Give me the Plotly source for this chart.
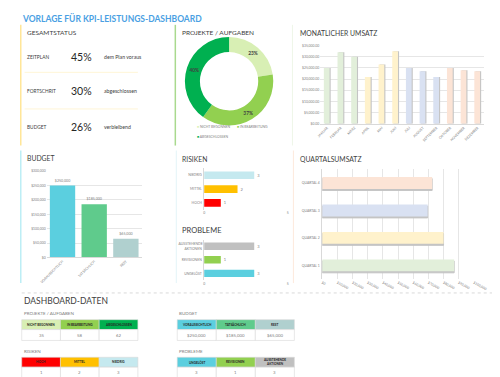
import plotly.graph_objects as go

# ---------------- data ----------------
status_labels = ["ZEITPLAN", "FORTSCHRIT", "BUDGET"]
status_values = ["45%", "30%", "26%"]
status_notes = ["dem Plan voraus", "abgeschlossen", "verbleibend"]

project_cats = ["NICHT BEGONNEN", "IN BEARBEITUNG", "ABGESCHLOSSEN"]
project_values = [35, 58, 62]
project_colors = ["#d8efb4", "#92d050", "#00b050"]

months = ["JANUAR", "FEBRUAR", "MÄRZ", "APRIL", "MAI", "JUNI", "JULI", "AUGUST",
          "SEPTEMBER", "OKTOBER", "NOVEMBER", "DEZEMBER"]
month_sales = [25000, 32000, 30000, 21000, 26500, 32500, 25000, 23500, 21000, 25000, 24000, 23500]
quarter_colors = ["#e2efda", "#fff2cc", "#d9e1f2", "#fce4d6"]

budget_cats = ["VORAUSSICHTLICH", "TATSÄCHLICH", "REST"]
budget_values = [250000, 185000, 65000]
budget_colors = ["#5bcfdf", "#5fcb8c", "#b0d0cf"]

risk_cats = ["HOCH", "MITTEL", "NIEDRIG"]
risk_values = [1, 2, 3]
risk_colors = ["#ff0000", "#ffc000", "#c5e9ef"]

problem_cats = ["UNGELÖST", "REVISIONEN", "AUSSTEHENDE<br>AKTIONEN"]
problem_values = [3, 1, 3]
problem_colors = ["#5bcfdf", "#92d050", "#c0c0c0"]

quarters = ["QUARTAL 1", "QUARTAL 2", "QUARTAL 3", "QUARTAL 4"]
quarter_sales = [87000, 80000, 69500, 72500]

W, H = 500, 377
FONT = "Lato"
DARK = "#404040"
GRAY = "#808080"


def px(x):
    return x / W


def py(y):
    return min(1.0, max(0.0, 1 - y / H))


fig = go.Figure()

# ---------------- pie ----------------
fig.add_trace(go.Pie(
    labels=project_cats, values=project_values, hole=0.66, sort=False,
    direction="clockwise", rotation=0,
    marker=dict(colors=project_colors, line=dict(width=0)),
    texttemplate="<b>%{percent:.0%}</b>", textposition="inside", insidetextorientation="horizontal",
    textfont=dict(size=4.8, color=DARK, family=FONT),
    domain=dict(x=[px(177), px(269)], y=[py(117), py(27)]),
    showlegend=False, hoverinfo="label+value+percent"))

# ---------------- monthly ----------------
mcolors = [quarter_colors[i // 3] for i in range(12)]
fig.add_trace(go.Bar(x=months, y=month_sales, xaxis="x", yaxis="y",
                     marker=dict(color="#c4c4c4", line=dict(width=0)),
                     width=0.42, offset=-0.16, showlegend=False, hoverinfo="skip"))
fig.add_trace(go.Bar(x=months, y=month_sales, xaxis="x", yaxis="y",
                     marker=dict(color=mcolors, line=dict(width=0)),
                     width=0.42, offset=-0.24, showlegend=False))

# ---------------- budget ----------------
fig.add_trace(go.Bar(x=budget_cats, y=budget_values, xaxis="x2", yaxis="y2",
                     marker=dict(color=budget_colors, line=dict(width=0)),
                     width=0.8, texttemplate="%{y:$,.0f}", textposition="outside",
                     textfont=dict(size=3.6, color=GRAY, family=FONT),
                     cliponaxis=False, showlegend=False))

# ---------------- risks ----------------
fig.add_trace(go.Bar(y=risk_cats, x=risk_values, orientation="h", xaxis="x3", yaxis="y3",
                     marker=dict(color=risk_colors, line=dict(width=0)),
                     width=0.55, texttemplate="%{x}", textposition="outside",
                     textfont=dict(size=4, color=GRAY, family=FONT),
                     cliponaxis=False, showlegend=False))

# ---------------- problems ----------------
fig.add_trace(go.Bar(y=problem_cats, x=problem_values, orientation="h", xaxis="x4", yaxis="y4",
                     marker=dict(color=problem_colors, line=dict(width=0)),
                     width=0.55, texttemplate="%{x}", textposition="outside",
                     textfont=dict(size=4, color=GRAY, family=FONT),
                     cliponaxis=False, showlegend=False))

# ---------------- quarterly ----------------
fig.add_trace(go.Bar(y=quarters, x=quarter_sales, orientation="h", xaxis="x5", yaxis="y5",
                     marker=dict(color="#c4c4c4", line=dict(color="#c4c4c4", width=1)),
                     width=0.43, offset=-0.27, showlegend=False, hoverinfo="skip"))
fig.add_trace(go.Bar(y=quarters, x=quarter_sales, orientation="h", xaxis="x5", yaxis="y5",
                     marker=dict(color=quarter_colors, line=dict(width=0)),
                     width=0.43, offset=-0.215, showlegend=False))

# ---------------- axes ----------------
tickf = dict(size=3.4, color=GRAY, family=FONT)
grid = "#e6e6e6"

layout_axes = dict(
    xaxis=dict(domain=[px(318), px(489)], anchor="y", tickangle=-45, tickfont=tickf,
               showgrid=False, showline=True, linecolor="#d9d9d9", linewidth=0.6, ticks=""),
    yaxis=dict(domain=[py(115), py(36)], anchor="x", range=[0, 35000], dtick=5000,
               tickformat="$,.2f", tickfont=tickf, gridcolor=grid, gridwidth=0.6,
               zeroline=False, showline=False, ticks=""),
    xaxis2=dict(domain=[px(33), px(132)], anchor="y2", tickangle=-45, tickfont=tickf,
                showgrid=False, showline=True, linecolor="#d9d9d9", linewidth=0.6, ticks=""),
    yaxis2=dict(domain=[py(250), py(163)], anchor="x2", range=[0, 300000], dtick=50000,
                tickformat="$,.0f", tickfont=tickf, gridcolor=grid, gridwidth=0.6,
                zeroline=False, showline=False, ticks=""),
    xaxis3=dict(domain=[px(197), px(284)], anchor="y3", range=[0, 5], tickvals=[0, 5],
                tickfont=tickf, gridcolor=grid, gridwidth=0.6, zeroline=False, ticks=""),
    yaxis3=dict(domain=[py(202), py(160)], anchor="x3", tickfont=tickf, showgrid=False,
                showline=True, linecolor="#d9d9d9", linewidth=0.6, ticks="", ticksuffix=" "),
    xaxis4=dict(domain=[px(197), px(284)], anchor="y4", range=[0, 5], tickvals=[0, 5],
                tickfont=tickf, gridcolor=grid, gridwidth=0.6, zeroline=False, ticks=""),
    yaxis4=dict(domain=[py(273), py(232)], anchor="x4", tickfont=tickf, showgrid=False,
                showline=True, linecolor="#d9d9d9", linewidth=0.6, ticks="", ticksuffix=" "),
    xaxis5=dict(domain=[px(320), px(478)], anchor="y5", range=[0, 100000], dtick=10000,
                tickformat="$,.0f", tickfont=tickf, gridcolor=grid, gridwidth=0.6,
                zeroline=False, ticks=""),
    yaxis5=dict(domain=[py(272), py(161)], anchor="x5", tickfont=tickf, showgrid=False,
                showline=True, linecolor="#d9d9d9", linewidth=0.6, ticks="", ticksuffix=" "),
)

# ---------------- annotations / shapes ----------------
ann = []
shapes = []


def text(x, y, s, size, color=DARK, xanchor="left", bold=False, family=FONT):
    ann.append(dict(x=px(x), y=py(y), xref="paper", yref="paper", text=("<b>%s</b>" % s) if bold else s,
                    showarrow=False, xanchor=xanchor, yanchor="middle",
                    font=dict(size=size, color=color, family=family)))


def rect(x0, y0, x1, y1, fill, line="#d9d9d9"):
    shapes.append(dict(type="rect", xref="paper", yref="paper", x0=px(x0), x1=px(x1),
                       y0=py(y1), y1=py(y0), fillcolor=fill, line=dict(color=line, width=0.6),
                       layer="below"))


def vline(x, y0, y1, color, width=1.5):
    shapes.append(dict(type="line", xref="paper", yref="paper", x0=px(x), x1=px(x),
                       y0=py(y0), y1=py(y1), line=dict(color=color, width=width)))


def hline(y, x0, x1, color, width=0.8, dash="solid"):
    shapes.append(dict(type="line", xref="paper", yref="paper", x0=px(x0), x1=px(x1),
                       y0=py(y), y1=py(y), line=dict(color=color, width=width, dash=dash)))


def table(x0, x1, y0, header, fills, values, fmt=str):
    n = len(header)
    cw = (x1 - x0) / n
    for j, (h, f, v) in enumerate(zip(header, fills, values)):
        cx0 = x0 + j * cw
        rect(cx0, y0, cx0 + cw, y0 + 10, f)
        rect(cx0, y0 + 10, cx0 + cw, y0 + 21, "white")
        text(cx0 + cw / 2, y0 + 5, "<b>%s</b>" % h, 3.1, color="#262626", xanchor="center")
        text(cx0 + cw / 2, y0 + 15.5, fmt(v), 4.3, color=GRAY, xanchor="center")


money = lambda v: "${:,.0f}".format(v)
table(7, 128, 313, project_cats, project_colors, project_values)
table(7, 128, 351, risk_cats, risk_colors, risk_values)
table(169, 291, 313, budget_cats, budget_colors, budget_values, fmt=money)
table(169, 291, 351, problem_cats, problem_colors, problem_values)

text(5, 8, "VORLAGE FÜR KPI-LEISTUNGS-DASHBOARD", 8.5, color="#4a9fe3", bold=True)
text(10, 23, "GESAMTSTATUS", 6.5)
for i, (lab, val, note) in enumerate(zip(status_labels, status_values, status_notes)):
    yy = [47, 82, 118][i]
    text(10, yy, lab, 4.8)
    text(56, yy, val, 10.5, color="#262626")
    text(91, yy, note, 5.2)

text(172, 23, "PROJEKTE / AUFGABEN", 6.5)
# pie legend
leg_pos = [(188, 118), (229, 118), (188, 128)]
for (lx, ly), cat, col in zip(leg_pos, project_cats, project_colors):
    ann.append(dict(x=px(lx), y=py(ly), xref="paper", yref="paper",
                    text="<span style='color:%s'>■</span> %s" % (col, cat), showarrow=False,
                    xanchor="left", yanchor="middle", font=dict(size=3.4, color=GRAY, family=FONT)))

text(295, 23, "MONATLICHER UMSATZ", 6.8)
text(10, 150, "BUDGET", 6.8)
text(172, 151, "RISIKEN", 6.8)
text(172, 223, "PROBLEME", 7.5)
text(295, 151, "QUARTALSUMSATZ", 6.8)
text(7, 294, "DASHBOARD-DATEN", 8.5)
text(7, 307, "PROJEKTE / AUFGABEN", 4.5, color=GRAY)
text(7, 345, "RISIKEN", 4.5, color=GRAY)
text(169, 307, "BUDGET", 4.5, color=GRAY)
text(169, 345, "PROBLEME", 4.5, color=GRAY)

vline(6, 15, 137, "#ffe699")
vline(167, 15, 137, "#a9d98e")
vline(289, 15, 137, "#eef6e8", 1)
vline(6, 142, 276, "#bdeef5")
vline(168, 142, 276, "#e3f4f8", 1)
vline(290, 142, 276, "#fde9dc", 1)
hline(63, 10, 128, "#fff2cc")
hline(100, 10, 128, "#fff2cc")
hline(286, 7, 500, "#cfcfcf", 0.8, "dot")

fig.update_layout(
    width=W, height=H, autosize=False, margin=dict(l=0, r=0, t=0, b=0),
    paper_bgcolor="white", plot_bgcolor="white", barmode="overlay",
    font=dict(family=FONT, color=DARK), annotations=ann, shapes=shapes,
    **layout_axes)

fig.write_html("out.html")
